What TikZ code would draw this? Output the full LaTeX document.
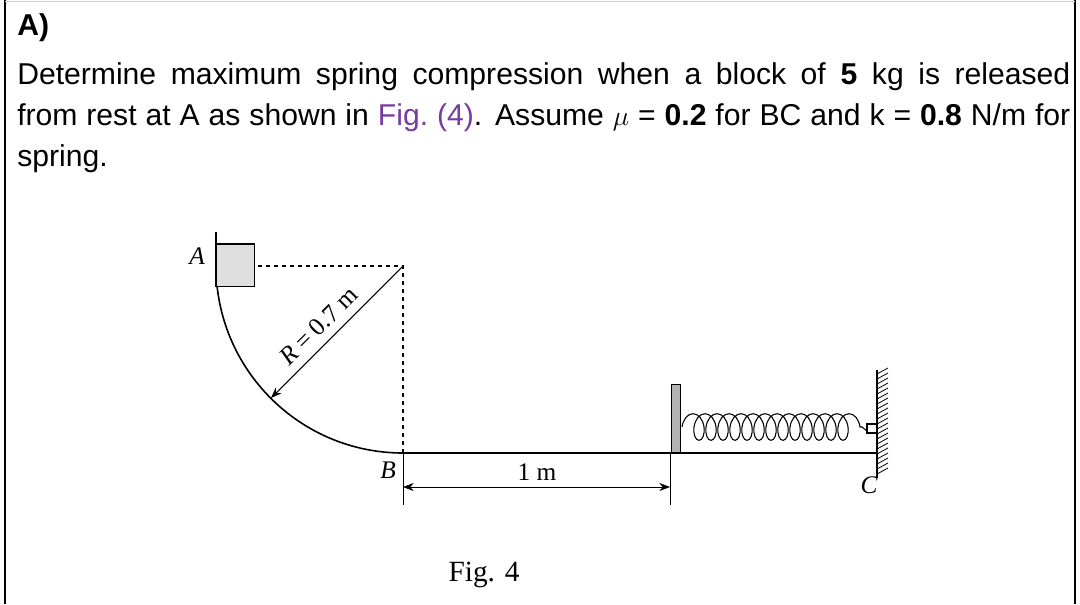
\documentclass[tikz,border=0pt]{standalone}
\usepackage{fontspec}
\setmainfont{Liberation Sans}
\newfontfamily\serifx{Liberation Serif}
\usetikzlibrary{decorations.pathmorphing,patterns,arrows.meta,calc}
\definecolor{figlink}{RGB}{120,60,160}
\begin{document}
\begin{tikzpicture}[x=0.75pt,y=-0.75pt,
  txt/.style={anchor=base west,inner sep=0,font=\fontsize{22.6}{25}\selectfont},
  lbl/.style={inner sep=0,font=\serifx\itshape\fontsize{19}{21}\selectfont},
  ln/.style={line width=1.2pt}]
\useasboundingbox (0,0) rectangle (1080,604);
\fill[white] (0,0) rectangle (1080,604);
% frame
\draw[line width=1.2pt] (5,0) -- (5,604);
\draw[line width=1.2pt] (1075,0) -- (1075,604);
\draw[gray!40] (5,1) -- (1075,1);
% text
\node[txt,font=\bfseries\fontsize{22.6}{25}\selectfont] (ta) at (17,35) {A)};
\node[txt] (t1) at (17,84) {\makebox[789.75pt][s]{Determine maximum spring compression when a block of \textbf{5} kg is released}};
\node[txt] (t2) at (17,125) {\makebox[789.75pt][s]{from rest at A as shown in \textcolor{figlink}{Fig.~(4)}. Assume $\mu$ = \textbf{0.2} for BC and k = \textbf{0.8} N/m for}};
\node[txt] (t3) at (17,166) {spring.};
% block and arc
\coordinate (O) at (403,266);
\coordinate (B) at (403,453);
\draw[ln] (216,232) -- (216,266) arc[start angle=180,end angle=270,radius=140.25pt] -- (877,453);
\node[draw,ln,fill=gray!25,minimum width=29pt,minimum height=32pt,inner sep=0,anchor=north west] (blk) at (215,243) {};
\node[lbl] (la) at (197,256) {A};
\draw[dashed,thick] (258,266) -- (O) -- (B);
\coordinate (Rend) at (271,398);
\draw[thick,-{Stealth[length=8pt]}] (O) -- (Rend);
\node[lbl,rotate=45,anchor=south,inner sep=2pt] (lr) at (327,334) {R\,=\,\upshape 0.7 m};
% dimension
\node[lbl] (lb) at (388,470) {B};
\draw[thin] (403,453) -- (403,505);
\draw[thin] (670,453) -- (670,505);
\draw[thin,{Stealth[length=8pt]}-{Stealth[length=8pt]}] (403,487) -- (670,487);
\node[lbl,font=\serifx\fontsize{19}{21}\selectfont] (l1) at (537,472) {1 m};
% plate
\node[draw,thin,fill=gray!60,minimum width=7pt,minimum height=51pt,inner sep=0,anchor=south west] (plate) at (671,453) {};
% spring
\coordinate (s1) at (682,427);
\coordinate (s2) at (862,427);
\draw[thick,decorate,decoration={coil,amplitude=10pt,segment length=9pt,aspect=0.6}] (s1) -- (s2);
\draw[thick] (s2) -- (867,431);
\draw[thick] (867,424) rectangle (877,433);
% wall
\draw[ln] (877,370) -- (877,478);
\foreach \yy in {374,379,...,476} \draw[semithick] (877,\yy) -- (888,\yy-6);
\node[lbl] (lc) at (869,485) {C};
\node[inner sep=0,font=\serifx\fontsize{22}{24}\selectfont] (fig) at (484,575) {Fig. 4};
\end{tikzpicture}
\end{document}
